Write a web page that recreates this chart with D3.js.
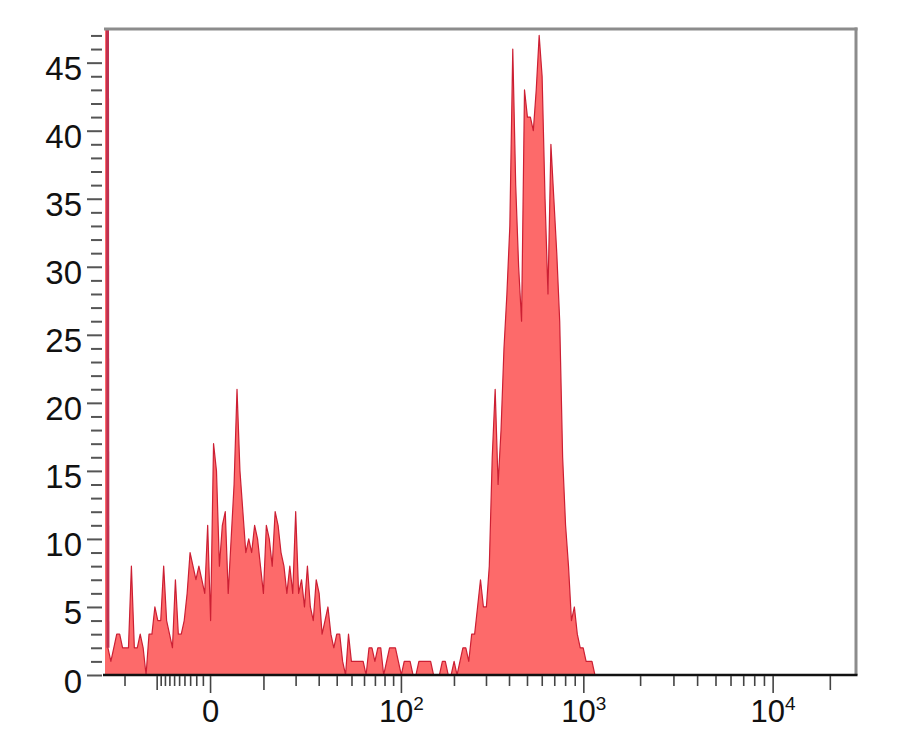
<!DOCTYPE html>
<html>
<head>
<meta charset="utf-8">
<script src="https://cdn.jsdelivr.net/npm/d3@7/dist/d3.min.js"></script>
<style>
  html, body { margin: 0; padding: 0; background: #ffffff; }
  svg { display: block; }
  text { font-family: "Liberation Sans", Arial, sans-serif; fill: #111; }
</style>
</head>
<body>
<svg id="chart" width="900" height="745"></svg>
<script>
// ---------------- DATA ----------------
// Histogram counts per channel (256 channels, uniform on the biexponential display scale)
const counts = [
  300, 2, 1, 2, 3, 3, 2, 2, 2, 8,
  2, 2, 3, 2, 0, 3, 3, 5, 4, 4,
  8, 4, 3, 2, 7, 3, 3, 4, 6, 9,
  8, 7, 8, 7, 6, 11, 4, 17, 15, 8,
  11, 12, 6, 10, 14, 21, 15, 12, 9, 10,
  9, 11, 10, 8, 6, 11, 10, 8, 12, 11,
  9, 8, 6, 8, 6, 12, 6, 7, 5, 8,
  5, 4, 7, 6, 3, 4, 5, 3, 2, 3,
  3, 1, 0, 3, 1, 1, 1, 1, 1, 0,
  2, 2, 1, 2, 2, 0, 1, 2, 2, 2,
  1, 0, 1, 1, 1, 0, 0, 1, 1, 1,
  1, 1, 0, 0, 0, 1, 1, 0, 0, 1,
  0, 1, 2, 2, 1, 3, 3, 5, 7, 5,
  5, 8, 16, 21, 14, 18, 24, 28, 33, 46,
  36, 30, 26, 43, 41, 41, 40, 43, 47, 44,
  35, 28, 39, 35, 31, 26, 16, 11, 8, 4,
  5, 3, 2, 2, 1, 1, 1, 0, 0, 0,
  0, 0, 0, 0, 0, 0, 0, 0, 0, 0,
  0, 0, 0, 0, 0, 0, 0, 0, 0, 0,
  0, 0, 0, 0, 0, 0, 0, 0, 0, 0,
  0, 0, 0, 0, 0, 0, 0, 0, 0, 0,
  0, 0, 0, 0, 0, 0, 0, 0, 0, 0,
  0, 0, 0, 0, 0, 0, 0, 0, 0, 0,
  0, 0, 0, 0, 0, 0, 0, 0, 0, 0,
  0, 0, 0, 0, 0, 0, 0, 0, 0, 0,
  0, 0, 0, 0, 0, 0
];
const xMin = -28.5;          // data value at left edge
const xMax = 27300;          // data value at right edge
const yMax = 47.4;
const yTickValues = d3.range(0, 48, 1);
const yLabelValues = [0, 5, 10, 15, 20, 25, 30, 35, 40, 45];
const xMajorTicks = [0, 100, 1000, 10000];
const xMajorLabels = [{base: "0", exp: ""}, {base: "10", exp: "2"}, {base: "10", exp: "3"}, {base: "10", exp: "4"}];
const xMinorTicks = [-20, -9, -8, -7, -6, -5, -4, -3, -2, -1,
  20, 30, 40, 50, 60, 70, 80, 90,
  200, 300, 400, 500, 600, 700, 800, 900,
  2000, 3000, 4000, 5000, 6000, 7000, 8000, 9000];
const xMidTicks = [-10, 10, 20000];

// ---------------- LAYOUT ----------------
const plot = {left: 105, right: 856, top: 30, bottom: 675};
const W = 11; // biexponential width constant
const T = v => Math.sign(v) * Math.log10(1 + Math.abs(v) / W);

const svg = d3.select("#chart");
const x = d3.scaleLinear().domain([T(xMin), T(xMax)]).range([plot.left, plot.right]);
const y = d3.scaleLinear().domain([0, yMax]).range([plot.bottom, plot.top]);
const nBins = counts.length;
const chan = d3.scaleLinear().domain([0, nBins]).range([T(xMin), T(xMax)]);

// clip
svg.append("defs").append("clipPath").attr("id", "clip")
  .append("rect").attr("x", plot.left - 1).attr("y", plot.top)
  .attr("width", plot.right - plot.left + 1).attr("height", plot.bottom - plot.top);

// histogram
const pts = counts.map((c, i) => ({t: chan(i), c}));
pts.push({t: chan(nBins), c: 0});
const area = d3.area().x(d => x(d.t)).y0(y(0)).y1(d => y(d.c)).curve(d3.curveLinear);
const line = d3.line().x(d => x(d.t)).y(d => y(d.c)).curve(d3.curveLinear);
const g = svg.append("g").attr("clip-path", "url(#clip)");
g.append("path").datum(pts).attr("d", area).attr("fill", "#fd6a6a");
g.append("path").datum(pts).attr("d", line).attr("fill", "none")
  .attr("stroke", "#cc1f33").attr("stroke-width", 1.2).attr("stroke-linejoin", "round");
// edge outline of the off-scale first channel (pile-up at the left edge)
g.append("path").datum(pts.slice(0, 2)).attr("d", line).attr("fill", "none")
  .attr("stroke", "#c03050").attr("stroke-width", 3);

// frame (top & right gray)
svg.append("line").attr("x1", plot.left - 1).attr("x2", plot.right + 1.5)
  .attr("y1", plot.top - 1).attr("y2", plot.top - 1)
  .attr("stroke", "#8c8c8c").attr("stroke-width", 3);
svg.append("line").attr("x1", plot.right).attr("x2", plot.right)
  .attr("y1", plot.top - 2.5).attr("y2", plot.bottom)
  .attr("stroke", "#8c8c8c").attr("stroke-width", 3);

// Y axis
const yMinor = d3.axisLeft(y).tickValues(yTickValues.filter(v => v % 5 !== 0)).tickSize(11).tickFormat("");
const yMajor = d3.axisLeft(y).tickValues(yLabelValues).tickSize(15).tickFormat("");
[yMinor, yMajor].forEach(ax => {
  const ga = svg.append("g").attr("transform", `translate(${plot.left - 3},0)`).call(ax);
  ga.select(".domain").remove();
  ga.selectAll("line").attr("stroke", "#555").attr("stroke-width", 2);
});
svg.append("g").selectAll("text").data(yLabelValues).join("text")
  .attr("x", 82).attr("y", d => y(d) + 6)
  .attr("text-anchor", "end").attr("dominant-baseline", "central")
  .style("font-size", "33px").text(d => d);

// X axis
const xpos = v => x(T(v));
const xAxisG = svg.append("g");
xAxisG.append("line").attr("x1", plot.left - 2).attr("x2", plot.right + 1.5)
  .attr("y1", plot.bottom).attr("y2", plot.bottom).attr("stroke", "#111").attr("stroke-width", 2.5);
const tickSets = [
  {vals: xMinorTicks, len: 11},
  {vals: xMidTicks, len: 15},
  {vals: xMajorTicks, len: 18}
];
tickSets.forEach(s => {
  xAxisG.append("g").selectAll("line").data(s.vals.filter(v => v >= xMin && v <= xMax)).join("line")
    .attr("x1", d => xpos(d)).attr("x2", d => xpos(d))
    .attr("y1", plot.bottom + 1).attr("y2", plot.bottom + s.len)
    .attr("stroke", "#444").attr("stroke-width", 1.6);
});
const lbl = xAxisG.append("g").selectAll("text").data(xMajorTicks).join("text")
  .attr("x", d => xpos(d)).attr("y", 722)
  .attr("text-anchor", "middle").style("font-size", "31px");
lbl.each(function(d, i) {
  const t = d3.select(this);
  t.append("tspan").text(xMajorLabels[i].base);
  if (xMajorLabels[i].exp) {
    t.append("tspan").attr("dy", -12).style("font-size", "19px").text(xMajorLabels[i].exp);
  }
});
</script>
</body>
</html>
